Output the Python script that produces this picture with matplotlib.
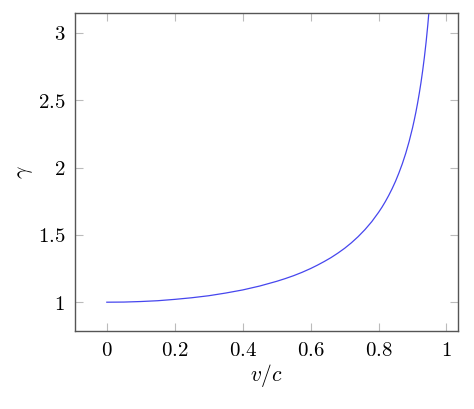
import matplotlib
matplotlib.use('Agg')
import matplotlib.pyplot as plt

plt.rcParams['mathtext.fontset'] = 'cm'
plt.rcParams['font.family'] = 'serif'
plt.rcParams['font.serif'] = ['DejaVu Serif']

# values (v/c, gamma)
speed = [0.0, 0.05, 0.1, 0.15, 0.2, 0.25, 0.3, 0.35, 0.4, 0.45, 0.5, 0.525,
         0.55, 0.575, 0.6, 0.62, 0.64, 0.66, 0.68, 0.7, 0.72, 0.74, 0.76,
         0.78, 0.8, 0.81, 0.82, 0.83, 0.84, 0.85, 0.86, 0.87, 0.88, 0.89,
         0.9, 0.905, 0.91, 0.915, 0.92, 0.925, 0.93, 0.935, 0.94, 0.945,
         0.95]
gamma = [1.000, 1.001, 1.005, 1.011, 1.021, 1.033, 1.048, 1.068, 1.091,
         1.120, 1.155, 1.175, 1.197, 1.222, 1.250, 1.275, 1.302, 1.331,
         1.364, 1.400, 1.441, 1.487, 1.539, 1.598, 1.667, 1.705, 1.747,
         1.793, 1.843, 1.898, 1.960, 2.028, 2.105, 2.193, 2.294, 2.351,
         2.412, 2.479, 2.552, 2.632, 2.721, 2.820, 2.931, 3.058, 3.203]

xticks = [0, 0.2, 0.4, 0.6, 0.8, 1]
yticks = [1, 1.5, 2, 2.5, 3]

fig = plt.figure(figsize=(4.74, 4.09), dpi=100)
ax = fig.add_axes([0.158, 0.191, 0.809, 0.776])

ax.plot(speed, gamma, color='#4646ee', linewidth=0.9)

ax.set_xlim(-0.094, 1.035)
ax.set_ylim(0.787, 3.144)

ax.set_xticks(xticks)
ax.set_xticklabels(['$%g$' % t for t in xticks])
ax.set_yticks(yticks)
ax.set_yticklabels(['$%g$' % t for t in yticks])
ax.tick_params(direction='in', length=6, width=0.8, color='#bbbbbb',
               labelsize=15, top=True, right=True, pad=7)

for s in ax.spines.values():
    s.set_color('#555555')
    s.set_linewidth(1.0)

ax.set_xlabel('$v/c$', fontsize=15.5, labelpad=2)
ax.set_ylabel(r'$\gamma$', fontsize=15.5, labelpad=2)

fig.savefig('out.png', dpi=100)
